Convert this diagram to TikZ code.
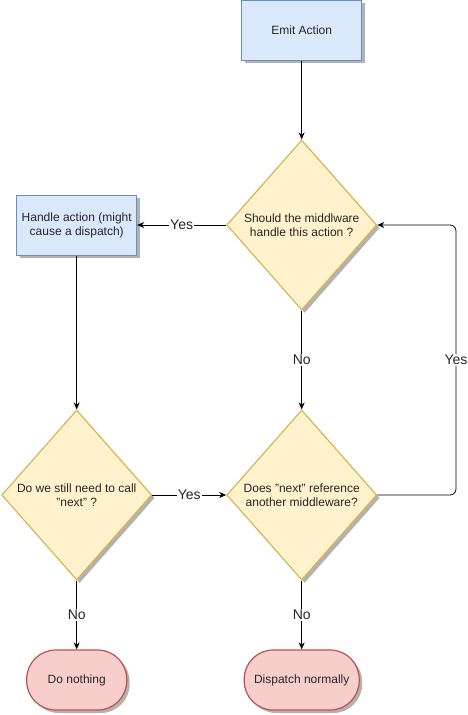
\documentclass[tikz,border=0pt]{standalone}
\usepackage{fontspec}
\setmainfont{Liberation Sans}
\usetikzlibrary{shapes.geometric,shadows,arrows.meta}
\definecolor{boxfill}{HTML}{DAE8FC}
\definecolor{boxline}{HTML}{6C8EBF}
\definecolor{askfill}{HTML}{FFF2CC}
\definecolor{askline}{HTML}{D6B656}
\definecolor{endfill}{HTML}{F8CECC}
\definecolor{endline}{HTML}{B85450}
\tikzset{
  flat/.style={drop shadow={shadow xshift=3pt, shadow yshift=-3pt, fill=black!30, opacity=1}},
  task/.style={draw=boxline, fill=boxfill, line width=1pt, rectangle, minimum width=120pt, minimum height=60pt, align=center, flat},
  ask/.style={draw=askline, fill=askfill, line width=1.2pt, diamond, aspect=0.88, minimum width=150pt, minimum height=170pt, inner sep=0pt, align=center, flat},
  stop/.style={draw=endline, fill=endfill, line width=1.2pt, rectangle, rounded corners=29pt, minimum height=60pt, align=center, flat},
  flow/.style={-{Stealth[length=7pt, width=6pt]}, line width=0.8pt},
  answer/.style={fill=white, inner sep=1pt, font=\fontsize{14}{16}\selectfont}
}
\begin{document}
\begin{tikzpicture}[x=1pt, y=1pt, font=\fontsize{12}{14}\selectfont, text=black!85]
\useasboundingbox (0,0) rectangle (468,-715);
\node[task] (emit) at (301.7, -30) {Emit Action};
\node[ask] (should) at (301.7, -225) {Should the middlware\\handle this action ?};
\node[task] (handle) at (76.7, -225) {Handle action (might\\cause a dispatch)};
\node[ask] (still) at (76.7, -495) {Do we still need to call\\"next" ?};
\node[ask] (another) at (301.7, -495) {Does "next" reference\\another middleware?};
\node[stop, minimum width=100pt] (nothing) at (76.7, -680) {Do nothing};
\node[stop, minimum width=115pt] (dispatch) at (301.7, -680) {Dispatch normally};
\coordinate (loop) at (456, -360); % bend of the way back up
\draw[flow] (emit.south) -- (should.north);
\draw[flow] (should.west) -- (handle.east) node[midway, answer] {Yes};
\draw[flow] (handle.south) -- (still.north);
\draw[flow] (should.south) -- (another.north) node[midway, answer] {No};
\draw[flow] (still.east) -- (another.west) node[midway, answer] {Yes};
\draw[flow] (still.south) -- (nothing.north) node[midway, answer] {No};
\draw[flow] (another.south) -- (dispatch.north) node[midway, answer] {No};
\draw[flow, rounded corners=6pt] (another.east) -| (loop) |- (should.east);
\node[answer] (back) at (loop) {Yes};
\end{tikzpicture}
\end{document}
